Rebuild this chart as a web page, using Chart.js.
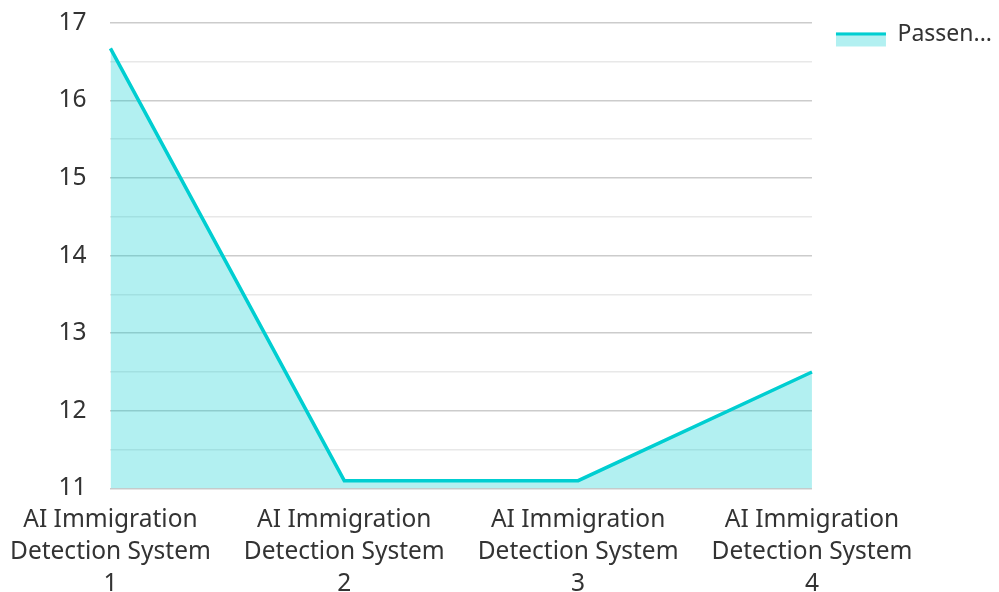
<!DOCTYPE html>
<html lang="en">
<head>
    <meta charset="UTF-8">
    <title>AI Immigration Detection Systems</title>
    <script src="https://cdn.jsdelivr.net/npm/chart.js"></script>
    <style>
        html, body { margin: 0; padding: 0; background: #fff; }
        .chart-wrap { width: 999px; height: 592px; position: relative; }
    </style>
</head>
<body>
    <div class="chart-wrap">
        <canvas id="lineChart"></canvas>
    </div>
    <script>
        // data
        const categories = [
            ['AI Immigration', 'Detection System', '1'],
            ['AI Immigration', 'Detection System', '2'],
            ['AI Immigration', 'Detection System', '3'],
            ['AI Immigration', 'Detection System', '4']
        ];
        const seriesName = 'Passen...';
        const passengers = [16.67, 11.1, 11.1, 12.5];
        const yMin = 11;
        const yMax = 17;

        const teal = '#00CED1';
        const tealFill = 'rgba(0, 206, 209, 0.3)';
        const textColor = '#333333';
        const fontFamily = '"Noto Sans", "Open Sans", sans-serif';

        // legend swatch: light fill with the line colour along its top edge
        const legendSwatch = {
            id: 'legendSwatch',
            afterDraw(chart) {
                const boxes = chart.legend && chart.legend.legendHitBoxes;
                if (!boxes || !boxes.length) return;
                const b = boxes[0];
                const mid = b.top + b.height / 2;
                const ctx = chart.ctx;
                ctx.save();
                ctx.fillStyle = tealFill;
                ctx.fillRect(b.left, mid - 2, 50, 14);
                ctx.fillStyle = teal;
                ctx.fillRect(b.left, mid - 2, 50, 3);
                ctx.restore();
            }
        };

        const ctx = document.getElementById('lineChart').getContext('2d');
        new Chart(ctx, {
            type: 'line',
            data: {
                labels: categories,
                datasets: [{
                    label: seriesName,
                    data: passengers,
                    borderColor: teal,
                    backgroundColor: tealFill,
                    borderWidth: 3.5,
                    fill: 'origin',
                    tension: 0,
                    pointRadius: 0,
                    pointHoverRadius: 0
                }]
            },
            options: {
                responsive: true,
                maintainAspectRatio: false,
                animation: false,
                layout: { padding: { top: -1, right: -3, bottom: -18, left: 0 } },
                plugins: {
                    tooltip: { enabled: false },
                    legend: {
                        position: 'right',
                        align: 'start',
                        labels: {
                            boxWidth: 50,
                            boxHeight: 14,
                            padding: 24,
                            color: textColor,
                            font: { family: fontFamily, size: 23 },
                            generateLabels(chart) {
                                const ds = chart.data.datasets[0];
                                return [{
                                    text: ds.label,
                                    fillStyle: 'rgba(0,0,0,0)',
                                    strokeStyle: 'rgba(0,0,0,0)',
                                    lineWidth: 0,
                                    fontColor: textColor,
                                    datasetIndex: 0
                                }];
                            }
                        }
                    }
                },
                scales: {
                    x: {
                        grid: { display: false, drawTicks: true, tickLength: 6 },
                        border: { display: false },
                        ticks: {
                            color: textColor,
                            maxRotation: 0,
                            autoSkip: false,
                            padding: 10,
                            font: { family: fontFamily, size: 24.5, lineHeight: 1.3 }
                        }
                    },
                    y: {
                        min: yMin,
                        max: yMax,
                        border: { display: false },
                        grid: {
                            drawTicks: true,
                            tickLength: 16,
                            tickColor: 'rgba(0,0,0,0)',
                            lineWidth: 1.5,
                            color: c => Number.isInteger(c.tick.value) ? '#cccccc' : '#e8e8e8'
                        },
                        ticks: {
                            stepSize: 0.5,
                            padding: 8,
                            color: textColor,
                            font: { family: fontFamily, size: 24.5 },
                            callback: v => Number.isInteger(v) ? v : ''
                        }
                    }
                }
            },
            plugins: [legendSwatch]
        });
    </script>
</body>
</html>
